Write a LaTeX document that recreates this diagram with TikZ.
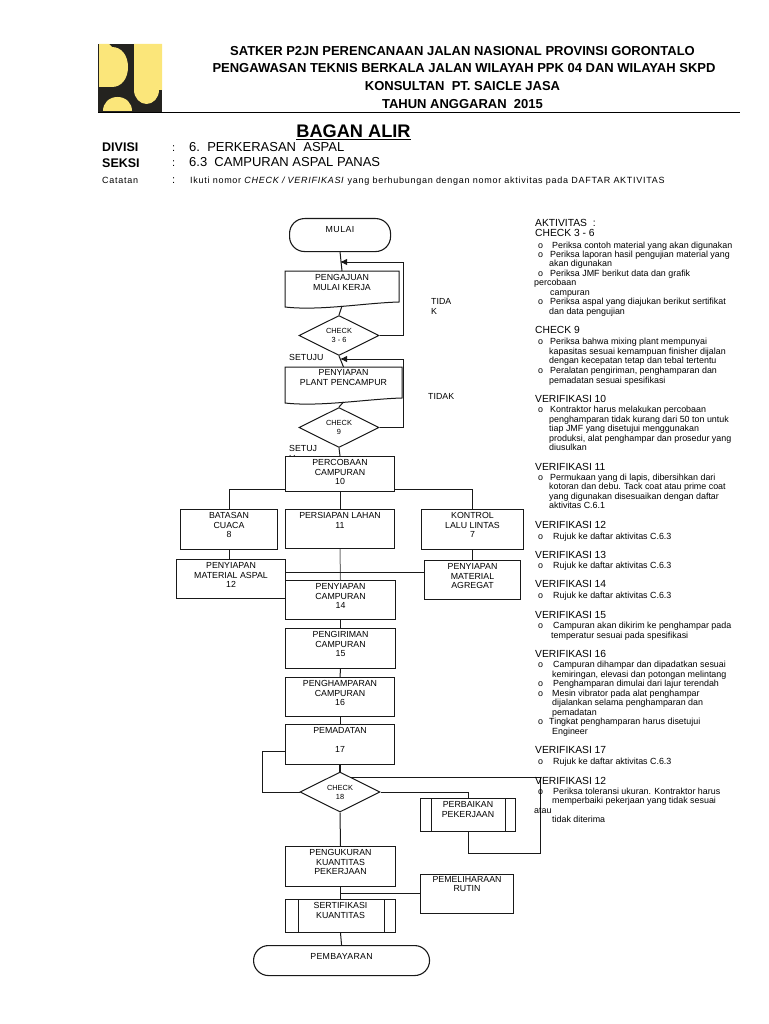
\documentclass[tikz,border=0pt]{standalone}
\usepackage{fontspec}
\setmainfont{Liberation Sans}
\usetikzlibrary{shapes.geometric, arrows.meta}
\definecolor{logoyellow}{HTML}{FBE67A}
\definecolor{logoblack}{HTML}{24231F}
\newcommand{\toptext}[3]{\parbox[c][#2pt][t]{#1pt}{\centering\vspace{3pt}#3}}
\newcommand{\wavebottom}[1]{\draw[flowline] (#1.north west) -- (#1.north east) -- ([yshift=6pt]#1.south east)
    .. controls ([xshift=-35pt,yshift=5pt]#1.south east) and ([xshift=35pt,yshift=-3pt]#1.south west) .. ([yshift=1pt]#1.south west) -- cycle;}
\tikzset{
    flowline/.style={line width=1pt, black!90},
    flowbox/.style={draw=black!90, line width=1pt, fill=white, anchor=north west, inner sep=0pt,
        font=\fontsize{8.8}{9.6}\selectfont},
    docbox/.style={flowbox, draw=none},
    startbox/.style={flowbox, rounded corners=15pt, line width=1.1pt},
    checkbox/.style={diamond, draw=black!90, line width=1pt, fill=white, inner sep=0pt, aspect=2,
        minimum width=80pt, minimum height=40pt, align=center, font=\fontsize{7.4}{9}\selectfont},
    headtext/.style={anchor=base, inner sep=0pt, font=\fontsize{13}{14}\bfseries\selectfont},
    plaintext/.style={anchor=base west, inner sep=0pt, yshift=-3pt, font=\fontsize{8.8}{10}\selectfont},
    notetext/.style={plaintext, font=\fontsize{8.9}{10}\selectfont},
    notehead/.style={plaintext, yshift=-0.7pt, font=\fontsize{10.3}{10}\selectfont},
    spacedtext/.style={plaintext, font=\fontsize{9}{10}\selectfont\addfontfeature{LetterSpace=8}},
}
\begin{document}
\begin{tikzpicture}[>={Latex[length=7pt,width=6.5pt]}, x=1pt, y=-1pt]
    \useasboundingbox (0,0) rectangle (768,1024);
    % Logo
    \fill[logoblack] (98,44) rectangle (162,112);
    \fill[logoyellow] (99,44) -- (109,44) -- (112,47) .. controls (122,47) and (128,56) .. (128,67)
        .. controls (128,78) and (122,87) .. (112,87) -- (99,87) -- cycle;
    \fill[logoyellow] (134,44) -- (162,44) -- (162,90) -- (159,90) .. controls (159,98) and (153,104) .. (146.5,104)
        .. controls (140,104) and (134,98) .. (134,90) -- cycle;
    \fill[logoyellow] (103,111) .. controls (103,103) and (109,97) .. (117.5,97)
        .. controls (126,97) and (132,103) .. (132,111) -- cycle;
    % Kop
    \node[headtext] (headA) at (462.5,56) {SATKER P2JN PERENCANAAN JALAN NASIONAL PROVINSI GORONTALO};
    \node[headtext] (headB) at (464,72.5) {PENGAWASAN TEKNIS BERKALA JALAN WILAYAH PPK 04 DAN WILAYAH SKPD};
    \node[headtext] (headC) at (462.5,90.5) {KONSULTAN\ \ PT. SAICLE JASA};
    \node[headtext] (headD) at (462.5,108.5) {TAHUN ANGGARAN\ \ 2015};
    \coordinate (ruleA) at (98,112.5);
    \coordinate (ruleB) at (740,112.5);
    \draw[line width=1pt] (ruleA) -- (ruleB);
    \node[headtext, font=\fontsize{18.2}{18}\bfseries\selectfont] (title) at (353.5,138) {\underline{BAGAN ALIR}};
    \node[plaintext, font=\fontsize{12.5}{14}\bfseries\selectfont] (divisi) at (102,149) {DIVISI};
    \node[plaintext, font=\fontsize{12.5}{14}\bfseries\selectfont] (seksi) at (102,165) {SEKSI};
    \node[spacedtext] (catatan) at (102,181) {Catatan};
    \node[plaintext, font=\fontsize{11}{14}\selectfont] (colonA) at (172,149) {:};
    \node[plaintext, font=\fontsize{11}{14}\selectfont] (colonB) at (172,164) {:};
    \node[plaintext, font=\fontsize{11}{14}\selectfont] (colonC) at (172,181) {:};
    \node[plaintext, font=\fontsize{13}{14}\selectfont] (divisiText) at (189,148.5) {6.\ \ PERKERASAN\ \ ASPAL};
    \node[plaintext, font=\fontsize{13}{14}\selectfont] (seksiText) at (189,163.5) {6.3\ \ CAMPURAN ASPAL PANAS};
    \node[spacedtext] (catatanText) at (190,180.5)
        {Ikuti nomor \textit{CHECK / VERIFIKASI} yang berhubungan dengan nomor aktivitas pada DAFTAR AKTIVITAS};
    % Label keputusan
    \node[plaintext] (tidakA) at (431,301) {TIDA};
    \node[plaintext] (tidakB) at (431,311) {K};
    \node[plaintext] (tidakC) at (428,396) {TIDAK};
    \node[plaintext] (setujuA) at (289,357) {SETUJU};
    \node[plaintext] (setujuB) at (289,448) {SETUJ};
    \node[plaintext] (setujuC) at (289,458) {U};
    % Kotak alir
    \node[startbox] (mulai) at (289,218) {\toptext{101}{33}{\vspace{5pt}\addfontfeature{LetterSpace=5}MULAI}};
    \node[docbox] (pengajuan) at (285,271) {\toptext{113}{36}{PENGAJUAN\\MULAI KERJA}};
    \node[checkbox] (checkA) at (339,335.5) {CHECK\\3 - 6};
    \node[docbox] (penyiapanPlant) at (285,367) {\toptext{116}{36}{\vspace{-1pt}PENYIAPAN\\PLANT PENCAMPUR}};
    \node[checkbox] (checkB) at (339,427.5) {CHECK\\9};
    \node[flowbox] (percobaan) at (285,456) {\toptext{109}{35}{PERCOBAAN\\CAMPURAN\\10}};
    \node[flowbox] (batasan) at (180,509) {\toptext{97}{40}{BATASAN\\CUACA\\8}};
    \node[flowbox] (persiapan) at (285,509) {\toptext{109}{39}{PERSIAPAN LAHAN\\11}};
    \node[flowbox] (kontrol) at (421,509) {\toptext{102}{40}{KONTROL\\LALU LINTAS\\7}};
    \node[flowbox] (materialAspal) at (176,559) {\toptext{109}{39}{PENYIAPAN\\MATERIAL ASPAL\\12}};
    \node[flowbox] (materialAgregat) at (424,560) {\toptext{96}{39}{PENYIAPAN\\MATERIAL\\AGREGAT}};
    \node[flowbox] (penyiapanCampuran) at (285,580) {\toptext{110}{39}{PENYIAPAN\\CAMPURAN\\14}};
    \node[flowbox] (pengiriman) at (285,628) {\toptext{110}{40}{PENGIRIMAN\\CAMPURAN\\15}};
    \node[flowbox] (penghamparan) at (285,677) {\toptext{109}{39}{PENGHAMPARAN\\CAMPURAN\\16}};
    \node[flowbox] (pemadatan) at (285,724) {\toptext{109}{40}{PEMADATAN\\[9.6pt]17}};
    \node[checkbox] (checkC) at (340,792) {CHECK\\18};
    \node[flowbox] (perbaikan) at (420,798) {\toptext{95}{33}{PERBAIKAN\\PEKERJAAN}};
    \node[flowbox] (pengukuran) at (285,846) {\toptext{110}{40}{PENGUKURAN\\KUANTITAS\\PEKERJAAN}};
    \node[flowbox] (pemeliharaan) at (420,874) {\toptext{93}{39}{\vspace{-1.3pt}PEMELIHARAAN\\RUTIN}};
    \node[flowbox] (sertifikasi) at (285,899) {\toptext{110}{33}{SERTIFIKASI\\KUANTITAS}};
    \node[startbox] (pembayaran) at (253,945) {\toptext{176}{30}{\vspace{5pt}\addfontfeature{LetterSpace=3}PEMBAYARAN}};
    \wavebottom{pengajuan}
    \wavebottom{penyiapanPlant}
    % Garis sisi pada kotak proses
    \draw[flowline] ([xshift=11pt]perbaikan.north west) -- ([xshift=11pt]perbaikan.south west);
    \draw[flowline] ([xshift=-11pt]perbaikan.north east) -- ([xshift=-11pt]perbaikan.south east);
    \draw[flowline] ([xshift=13pt]sertifikasi.north west) -- ([xshift=13pt]sertifikasi.south west);
    \draw[flowline] ([xshift=-12pt]sertifikasi.north east) -- ([xshift=-12pt]sertifikasi.south east);
    % Penghubung
    \coordinate (loopA) at (340,262);
    \coordinate (loopB) at (340,359);
    \coordinate (loopC) at (350,777);
    \coordinate (tapA) at (340,893);
    \draw[flowline] (mulai.south) -- (pengajuan.north);
    \draw[flowline] ([yshift=2pt]pengajuan.south) -- (checkA.north);
    \draw[flowline] (checkA.south) -- (penyiapanPlant.north);
    \draw[flowline] ([yshift=2pt]penyiapanPlant.south) -- (checkB.north);
    \draw[flowline] (checkB.south) -- (percobaan.north);
    \draw[flowline, ->] (checkA.east) -- ++(24,0) |- (loopA);
    \draw[flowline, ->] (checkB.east) -- ++(24,0) |- (loopB);
    \draw[flowline] (percobaan.south) -- (persiapan.north);
    \draw[flowline] ([yshift=3pt]percobaan.south west) -| (batasan.north);
    \draw[flowline] ([yshift=3pt]percobaan.south east) -| (kontrol.north);
    \draw[flowline] (batasan.south) -- (batasan.south |- materialAspal.north);
    \draw[flowline] (kontrol.south) -- (kontrol.south |- materialAgregat.north);
    \draw[flowline, black!55] (persiapan.south) -- (penyiapanCampuran.north);
    \draw[flowline] (materialAspal.east) ++(0,-7) -- (materialAgregat.west |- 0,572);
    \draw[flowline] (penyiapanCampuran.south) -- (pengiriman.north);
    \draw[flowline] (pengiriman.south) -- (penghamparan.north);
    \draw[flowline] (penghamparan.south) -- (pemadatan.north);
    \draw[flowline, line width=1.4pt] (pemadatan.south) -- (checkC.north);
    \draw[flowline] ([yshift=14pt]pemadatan.south west) -- ++(-23,0) |- (checkC.west);
    \draw[flowline] (checkC.east) -| (perbaikan.north);
    \draw[flowline] (perbaikan.south) |- (540,853) |- (loopC);
    \draw[flowline] (checkC.south) -- (pengukuran.north);
    \draw[flowline] (pengukuran.south) -- (sertifikasi.north);
    \draw[flowline] (pemeliharaan.west |- tapA) -- (tapA);
    \draw[flowline] (sertifikasi.south) -- (pembayaran.north);
    % Daftar aktivitas
    \foreach \x/\y/\t in {535/223/{AKTIVITAS\ \ :}, 535/233/{CHECK 3 - 6}, 535/330/{CHECK 9},
        535/399/{VERIFIKASI 10}, 535/467/{VERIFIKASI 11}, 535/525/{VERIFIKASI 12}, 535/555/{VERIFIKASI 13},
        535/584/{VERIFIKASI 14}, 535/615/{VERIFIKASI 15}, 535/654/{VERIFIKASI 16}, 535/750/{VERIFIKASI 17},
        535/781/{VERIFIKASI 12}}
        \node[notehead] (head\y) at (\x,\y) {\t};
    \foreach \y in {245,254,273,301,341,370,409,477,536,565,595,625,664,683,693,721,761,791}
        \node[notetext] (bullet\y) at (538,\y) {o};
    \foreach \x/\y/\t in {552/245/{Periksa contoh material yang akan digunakan},
        550/254/{Periksa laporan hasil pengujian material yang}, 549/263/{akan digunakan},
        550/273/{Periksa JMF berikut data dan grafik}, 534/282/{percobaan}, 550/292/{campuran},
        550/301/{Periksa aspal yang diajukan berikut sertifikat}, 549/311/{dan data pengujian},
        550/341/{Periksa bahwa mixing plant mempunyai}, 549/351/{kapasitas sesuai kemampuan finisher dijalan},
        549/360/{dengan kecepatan tetap dan tebal tertentu}, 550/370/{Peralatan pengiriman, penghamparan dan},
        549/380/{pemadatan sesuai spesifikasi},
        550/409/{Kontraktor harus melakukan percobaan}, 549/419/{penghamparan tidak kurang dari 50 ton untuk},
        549/428/{tiap JMF yang disetujui menggunakan}, 549/438/{produksi, alat penghampar dan prosedur yang},
        549/447/{diusulkan},
        550/477/{Permukaan yang di lapis, dibersihkan dari}, 549/486/{kotoran dan debu. Tack coat atau prime coat},
        549/496/{yang digunakan disesuaikan dengan daftar}, 549/505/{aktivitas C.6.1},
        553/536/{Rujuk ke daftar aktivitas C.6.3}, 553/565/{Rujuk ke daftar aktivitas C.6.3},
        553/595/{Rujuk ke daftar aktivitas C.6.3},
        553/625/{Campuran akan dikirim ke penghampar pada}, 551/635/{temperatur sesuai pada spesifikasi},
        553/664/{Campuran dihampar dan dipadatkan sesuai}, 552/674/{kemiringan, elevasi dan potongan melintang},
        553/683/{Penghamparan dimulai dari lajur terendah}, 552/693/{Mesin vibrator pada alat penghampar},
        552/702/{dijalankan selama penghamparan dan}, 552/712/{pemadatan},
        549/721/{Tingkat penghamparan harus disetujui}, 552/731/{Engineer},
        553/761/{Rujuk ke daftar aktivitas C.6.3},
        553/791/{Periksa toleransi ukuran. Kontraktor harus}, 552/800/{memperbaiki pekerjaan yang tidak sesuai},
        534/810/{atau}, 552/819/{tidak diterima}}
        \node[notetext] (note\y) at (\x,\y) {\t};
\end{tikzpicture}
\end{document}
